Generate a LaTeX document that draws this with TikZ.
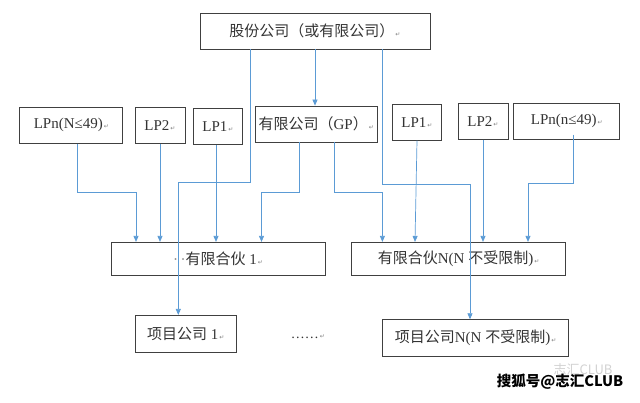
\documentclass[tikz,border=0pt]{standalone}
\usepackage{fontspec}
\setmainfont{Liberation Serif}
\newfontfamily\cjk{Noto Sans CJK SC}
\newfontfamily\symf{DejaVu Sans}
\usetikzlibrary{arrows.meta}
\definecolor{linkblue}{HTML}{5B9BD5}
\definecolor{boxgray}{HTML}{404040}
\definecolor{txtgray}{HTML}{333333}
\newcommand{\ret}{{\symf\fontsize{6}{6}\selectfont\color{gray}\,↵}}
\tikzset{
  box/.style={draw=boxgray, line width=0.8pt, inner sep=0pt, text=txtgray,
    font=\fontsize{15}{16}\selectfont},
  link/.style={draw=linkblue, line width=0.7pt, -{Triangle[width=5pt,length=6pt]}},
}
\begin{document}
\begin{tikzpicture}[x=1pt,y=-1pt]
        \useasboundingbox (0,0) rectangle (640,402);
        % top level
        \node[box, minimum width=230pt, minimum height=36pt] (top) at (315,31) {{\cjk 股份公司（或有限公司）}\ret};
        % partners
        \node[box, minimum width=103pt, minimum height=36pt] (lpnL) at (71.3,125.3) {LPn(N≤49)\ret};
        \node[box, minimum width=50pt, minimum height=36pt] (lp2L) at (160,125.3) {LP2\ret};
        \node[box, minimum width=49pt, minimum height=36pt] (lp1L) at (218,126.7) {LP1\ret};
        \node[box, minimum width=122pt, minimum height=36pt] (gp) at (316.2,124) {{\cjk 有限公司（}GP{\cjk ）}\ret};
        \node[box, minimum width=49pt, minimum height=36pt] (lp1R) at (417,122.2) {LP1\ret};
        \node[box, minimum width=50pt, minimum height=36pt] (lp2R) at (483,121.3) {LP2\ret};
        \node[box, minimum width=106pt, minimum height=36pt] (lpnR) at (566.8,121.3) {LPn(n≤49)\ret};
        % partnerships
        \node[box, minimum width=214pt, minimum height=33.4pt] (hh1) at (217.9,259) {{\color{gray}·\,·}{\cjk 有限合伙} 1\ret};
        \node[box, minimum width=214pt, minimum height=33.4pt] (hhN) at (458.6,259) {{\cjk 有限合伙}N(N {\cjk 不受限制})\ret};
        % projects
        \node[box, minimum width=101.5pt, minimum height=36.7pt] (xm1) at (185.8,333.7) {{\cjk 项目公司} 1\ret};
        \node[font=\fontsize{14}{15}\selectfont, text=txtgray] (dots) at (308,337) {……\ret};
        \node[box, minimum width=185.6pt, minimum height=36.6pt] (xmN) at (475.6,338) {{\cjk 项目公司}N(N {\cjk 不受限制})\ret};
        % watermark
        \node[font=\cjk\fontsize{13}{13}\selectfont, text=gray!35] (wmfaint) at (583,369) {志汇CLUB};
        \node[font=\cjk\bfseries\fontsize{14.5}{15}\selectfont] (wm) at (560,382) {搜狐号@志汇CLUB};
        % connectors
        \draw[link] (top.south) -- (top.south |- gp.north);
        \draw[link] ([xshift=-65pt]top.south) -- ++(0,133) -| ([xshift=-7.5pt]xm1.north);
        \draw[link] ([xshift=67pt]top.south) -- ++(0,135) -| ([xshift=-5.6pt]xmN.north);
        \draw[link] ([xshift=5.7pt]lpnL.south) -- ++(0,49) -| ([xshift=-81.9pt]hh1.north);
        \draw[link] (lp2L.south) -- (lp2L.south |- hh1.north);
        \draw[link] ([xshift=-2pt]lp1L.south) -- ([xshift=-2pt]hh1.north -| lp1L.south);
        \draw[link] ([xshift=-17.2pt]gp.south) -- ++(0,50) -| ([xshift=43.6pt]hh1.north);
        \draw[link] ([xshift=17.8pt]gp.south) -- ++(0,50) -| ([xshift=-76.2pt]hhN.north);
        \draw[link] (lp1R.south) -- ([xshift=-2pt]lp1R.south |- hhN.north);
        \draw[link] (lp2R.south) -- (lp2R.south |- hhN.north);
        \draw[link] ([xshift=6.2pt,yshift=5pt]lpnR.south) -- ++(0,49) -| ([xshift=69.4pt]hhN.north);
    \end{tikzpicture}
\end{document}
